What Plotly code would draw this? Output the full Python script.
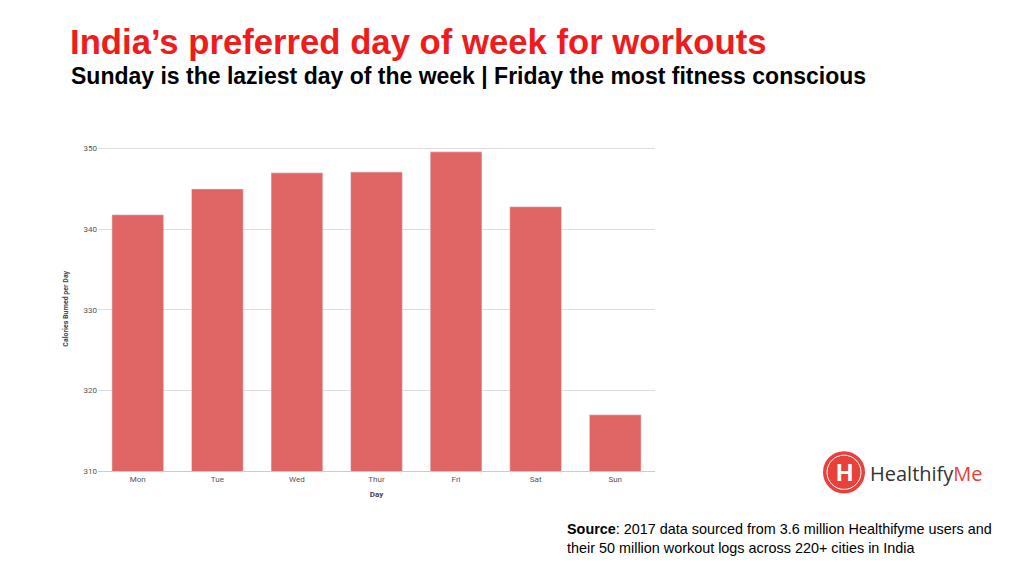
import plotly.graph_objects as go

days = ["Mon", "Tue", "Wed", "Thur", "Fri", "Sat", "Sun"]
calories = [341.8, 345.0, 347.0, 347.1, 349.6, 342.8, 317.0]
yticks = [310, 320, 330, 340, 350]

W, H = 1008, 548
def px(x): return (x - 8) / W
def py(y):
    y = (y - 4.8) / 0.981
    return 1 - (y - 8) / H

fig = go.Figure(go.Bar(x=days, y=calories, marker_color="#e06666", width=0.65))
fig.update_layout(
    width=W, height=H, paper_bgcolor="white", plot_bgcolor="white",
    margin=dict(l=0, r=0, t=0, b=0), showlegend=False,
    font=dict(family="Roboto", color="#666"),
    xaxis=dict(domain=[px(98), px(655)], title=dict(text="<b>Day</b>", font=dict(size=8, color="#444"), standoff=8),
               tickfont=dict(size=8, color="#555"), showline=True, linecolor="#ccc"),
    yaxis=dict(domain=[py(471), py(148)], range=[310, 350.3], tickvals=yticks,
               tickfont=dict(size=8, color="#555"), gridcolor="#ddd", zeroline=False,
               title=dict(text="<b>Calories Burned per Day</b>", font=dict(size=7, color="#444"), standoff=14)),
)
fig.add_annotation(x=px(68), y=py(44), xref="paper", yref="paper", xanchor="left", yanchor="middle",
                   text="<b>India’s preferred day of week for workouts</b>", showarrow=False,
                   font=dict(family="Liberation Sans", size=34.7, color="#ee1c1c"))
fig.add_annotation(x=px(69), y=py(78), xref="paper", yref="paper", xanchor="left", yanchor="middle",
                   text="<b>Sunday is the laziest day of the week | Friday the most fitness conscious</b>", showarrow=False,
                   font=dict(family="Liberation Sans", size=23, color="black"))
fig.add_annotation(x=px(565), y=py(538), xref="paper", yref="paper", xanchor="left", yanchor="middle",
                   text="<b>Source</b>: 2017 data sourced from 3.6 million Healthifyme users and<br>their 50 million workout logs across 220+ cities in India",
                   showarrow=False, align="left",
                   font=dict(family="Liberation Sans", size=14.4, color="black"))
# logo
fig.add_shape(type="circle", xref="paper", yref="paper", x0=px(824), x1=px(864), y0=py(492), y1=py(452),
              fillcolor="#e8413c", line=dict(color="#e8413c"), layer="below")
fig.add_shape(type="circle", xref="paper", yref="paper", x0=px(827), x1=px(861), y0=py(489), y1=py(455),
              fillcolor="rgba(0,0,0,0)", line=dict(color="white", width=1), layer="below")
fig.add_annotation(x=px(844), y=py(472), xref="paper", yref="paper", xanchor="center", yanchor="middle",
                   text="<b>H</b>", showarrow=False,
                   font=dict(family="Liberation Sans", size=24, color="white"))
fig.add_annotation(x=px(868), y=py(473), xref="paper", yref="paper", xanchor="left", yanchor="middle",
                   text="<span style='color:#333'>Healthify</span><span style='color:#e8413c'>Me</span>",
                   showarrow=False, font=dict(family="Open Sans", size=20))
fig.write_html("out.html")
